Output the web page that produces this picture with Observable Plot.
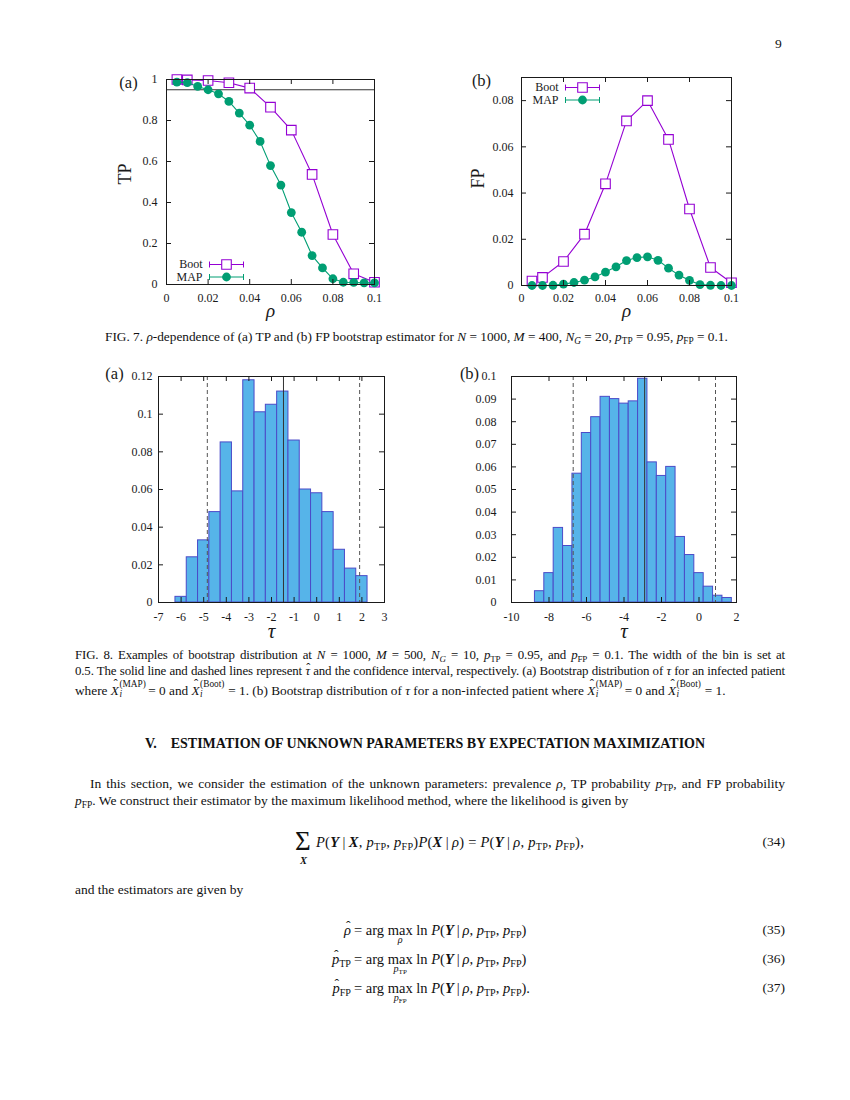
<!DOCTYPE html>
<html>
<head>
<meta charset="utf-8">
<script src="https://cdn.jsdelivr.net/npm/d3@7"></script>
<script src="https://cdn.jsdelivr.net/npm/@observablehq/plot@0.6"></script>
<style>
  html, body { margin: 0; padding: 0; background: #fff; }
  body { width: 850px; height: 1100px; position: relative; overflow: hidden;
         font-family: "Liberation Serif", "Times New Roman", serif; color: #111; }
  .abs { position: absolute; white-space: nowrap; }
  .cap { font-size: 13.3px; line-height: 15px; }
  .capj { font-size: 12.9px; line-height: 15px; letter-spacing: -0.15px; }
  .body { font-size: 13.5px; line-height: 16px; }
  .eq { font-size: 14.5px; line-height: 16px; }
  .just { text-align: justify; text-align-last: justify; white-space: normal; }
  sub { font-size: 70%; vertical-align: -0.3em; line-height: 0; }
  .ss { display: inline-block; position: relative; width: 2.2em; height: 1em; vertical-align: baseline; }
  .ss .up { position: absolute; left: 0.05em; top: -0.55em; font-size: 70%; }
  .ss .dn { position: absolute; left: 0.05em; top: 0.55em; font-size: 70%; font-style: italic; }
  .lim { position: relative; display: inline-block; }
  .under { position: absolute; left: 50%; transform: translateX(-50%); top: 1.0em; font-size: 70%; white-space: nowrap; }
  .hat, .hatc { position: relative; display: inline-block; font-style: italic; }
  .hat::after, .hatc::after { content: "\02C6"; position: absolute; left: 50%; transform: translateX(-35%);
         font-style: normal; font-size: 95%; }
  .hat::after { top: -0.22em; }
  .hatc::after { top: -0.48em; }
  .chart { position: absolute; }
</style>
</head>
<body>
<div id="root"></div>
<script>
// ---------------- data ----------------
const bootRho = [0.005, 0.01, 0.02, 0.03, 0.04, 0.05, 0.06, 0.07, 0.08, 0.09, 0.1];
const bootTP  = [1.0, 0.998, 0.995, 0.984, 0.958, 0.865, 0.753, 0.537, 0.244, 0.052, 0.011];
const bootFP  = [0.0019, 0.0035, 0.0104, 0.0222, 0.044, 0.0712, 0.080, 0.0632, 0.0331, 0.0078, 0.0012];

const mapRho = [0.005, 0.01, 0.015, 0.02, 0.025, 0.03, 0.035, 0.04, 0.045, 0.05,
                0.055, 0.06, 0.065, 0.07, 0.075, 0.08, 0.085, 0.09, 0.095, 0.1];
const mapTP  = [0.987, 0.985, 0.966, 0.950, 0.930, 0.893, 0.836, 0.777, 0.698, 0.580,
                0.485, 0.351, 0.255, 0.141, 0.081, 0.028, 0.011, 0.010, 0.008, 0.008];
const mapFP  = [0.0, 0.0, 0.0001, 0.0006, 0.0013, 0.0023, 0.0037, 0.0058, 0.0081, 0.0108,
                0.0121, 0.0124, 0.0109, 0.0075, 0.0045, 0.0022, 0.0004, 0.0001, 0.0, 0.0];

const pTPLine = [0.95];

const binWidth = 0.5;
const tauA  = [-6, -5.5, -5, -4.5, -4, -3.5, -3, -2.5, -2, -1.5, -1, -0.5, 0, 0.5, 1, 1.5, 2];
const probA = [0.003, 0.024, 0.033, 0.048, 0.085, 0.059, 0.118, 0.101, 0.105, 0.112,
               0.086, 0.060, 0.058, 0.048, 0.028, 0.018, 0.014];
const tauHatA = [-1.47];
const ciA = [-4.84, 1.90];

const tauB  = [-8.5, -8, -7.5, -7, -6.5, -6, -5.5, -5, -4.5, -4, -3.5, -3, -2.5, -2, -1.5,
               -1, -0.5, 0, 0.5, 1, 1.5];
const probB = [0.005, 0.013, 0.033, 0.025, 0.057, 0.075, 0.082, 0.091, 0.090, 0.088, 0.089,
               0.099, 0.062, 0.056, 0.060, 0.029, 0.021, 0.013, 0.007, 0.003, 0.002];
const tauHatB = [-2.90];
const ciB = [-6.71, 0.88];

const rhoTicks  = [0, 0.02, 0.04, 0.06, 0.08, 0.1];
const tpTicks   = [0, 0.2, 0.4, 0.6, 0.8, 1];
const fpTicks   = [0, 0.02, 0.04, 0.06, 0.08];
const tauATicks = [-7, -6, -5, -4, -3, -2, -1, 0, 1, 2, 3];
const hATicks   = [0, 0.02, 0.04, 0.06, 0.08, 0.1, 0.12];
const tauBTicks = [-10, -8, -6, -4, -2, 0, 2];
const hBTicks   = [0, 0.01, 0.02, 0.03, 0.04, 0.05, 0.06, 0.07, 0.08, 0.09, 0.1];

const seriesNames = ["Boot", "MAP"];

// ---------------- styles ----------------
const PURPLE = "#9400d3";
const GREEN = "#009e73";
const BLUE = "#56b4e9";
const EDGE = "#4b4bc8";
const INK = "#1a1a1a";
const fmt = d => String(d);

const bootTable = bootRho.map((r, i) => ({rho: r, tp: bootTP[i], fp: bootFP[i]}));
const mapTable = mapRho.map((r, i) => ({rho: r, tp: mapTP[i], fp: mapFP[i]}));
const histA = tauA.map((t, i) => ({tau: t, p: probA[i]}));
const histB = tauB.map((t, i) => ({tau: t, p: probB[i]}));

const keyLine = {
  draw(ctx) {
    const h = 17, c = 3;
    ctx.moveTo(-h, 0); ctx.lineTo(h, 0);
    ctx.moveTo(-h, -c); ctx.lineTo(-h, c);
    ctx.moveTo(h, -c); ctx.lineTo(h, c);
  }
};

function frameTicks(xt, yt, fw, fh, len = 5) {
  const o = {stroke: INK, strokeWidth: 1};
  return [
    Plot.tickX(xt, {x: d => d, insetTop: fh - len, ...o}),
    Plot.tickX(xt, {x: d => d, insetBottom: fh - len, ...o}),
    Plot.tickY(yt, {y: d => d, insetLeft: fw - len, ...o}),
    Plot.tickY(yt, {y: d => d, insetRight: fw - len, ...o})
  ];
}

function label(str, anchor, dx, dy, extra = {}) {
  return Plot.text([str], {frameAnchor: anchor, dx, dy, text: d => d,
    textAnchor: "middle", lineAnchor: "middle", ...extra});
}

function panel(cfg) {
  const {left, top, width, height, ml, mr, mt, mb, xDomain, yDomain, xTicks, yTicks, xPad, yPad, marks} = cfg;
  const fw = width - ml - mr, fh = height - mt - mb;
  const chart = Plot.plot({
    width, height,
    marginLeft: ml, marginRight: mr, marginTop: mt, marginBottom: mb,
    style: {fontFamily: "Liberation Serif, serif", fontSize: "12px", background: "none",
            color: INK, overflow: "visible", maxWidth: "none"},
    x: {domain: xDomain},
    y: {domain: yDomain},
    marks: [
      ...marks(fw, fh),
      ...frameTicks(xTicks, yTicks, fw, fh),
      Plot.frame({stroke: INK, strokeWidth: 1}),
      Plot.axisX(xTicks, {tickSize: 0, tickPadding: xPad, tickFormat: fmt, label: null, fontSize: 12}),
      Plot.axisY(yTicks, {tickSize: 0, tickPadding: yPad, tickFormat: fmt, label: null, fontSize: 12}),
      ...cfg.labels
    ]
  });
  const wrap = document.createElement("div");
  wrap.className = "chart";
  wrap.style.left = left + "px";
  wrap.style.top = top + "px";
  wrap.appendChild(chart);
  document.getElementById("root").appendChild(wrap);
}

function legend(anchor, x0, y0) {
  const rows = [
    {name: seriesNames[0], color: PURPLE, dy: y0, sym: {symbol: "square", r: 5.4, stroke: PURPLE, fill: "white", strokeWidth: 1.1}},
    {name: seriesNames[1], color: GREEN, dy: y0 + 12.5, sym: {symbol: "circle", r: 4.4, fill: GREEN}}
  ];
  return rows.flatMap(row => [
    Plot.text([row.name], {frameAnchor: anchor, dx: x0, dy: row.dy, text: d => d,
      textAnchor: "end", lineAnchor: "middle", fontSize: 12}),
    Plot.dot([0], {frameAnchor: anchor, dx: x0 + 24, dy: row.dy, symbol: keyLine, r: 1,
      stroke: row.color, fill: "none", strokeWidth: 1}),
    Plot.dot([0], {frameAnchor: anchor, dx: x0 + 24, dy: row.dy, ...row.sym})
  ]);
}

function seriesMarks(key) {
  return () => [
    Plot.line(bootTable, {x: "rho", y: key, stroke: PURPLE, strokeWidth: 1.1}),
    Plot.dot(bootTable, {x: "rho", y: key, symbol: "square", r: 5.4, stroke: PURPLE, fill: "white", strokeWidth: 1.1}),
    Plot.line(mapTable, {x: "rho", y: key, stroke: GREEN, strokeWidth: 1.1}),
    Plot.dot(mapTable, {x: "rho", y: key, symbol: "circle", r: 4.4, fill: GREEN})
  ];
}

// (a) TP
panel({
  left: 100, top: 60, width: 290, height: 260, ml: 66, mr: 16, mt: 19, mb: 36,
  xDomain: [0, 0.1], yDomain: [0, 1], xTicks: rhoTicks, yTicks: tpTicks, xPad: 9, yPad: 9,
  marks: (fw, fh) => [
    Plot.ruleY(pTPLine, {y: d => d, stroke: "#333", strokeWidth: 1}),
    ...seriesMarks("tp")()
  ],
  labels: [
    ...legend("bottom-left", 36, -20),
    label("ρ", "bottom", 0, 26, {fontSize: 19, fontStyle: "italic"}),
    label("TP", "left", -41, -8, {fontSize: 18, rotate: -90}),
    label("(a)", "top-left", -38, 3, {fontSize: 16.5})
  ]
});

// (b) FP
panel({
  left: 460, top: 60, width: 290, height: 260, ml: 61, mr: 19, mt: 17, mb: 35,
  xDomain: [0, 0.1], yDomain: [0, 0.09], xTicks: rhoTicks, yTicks: fpTicks, xPad: 8, yPad: 8,
  marks: seriesMarks("fp"),
  labels: [
    ...legend("top-left", 37, 10),
    label("ρ", "bottom", 0, 25, {fontSize: 19, fontStyle: "italic"}),
    label("FP", "left", -43, -3, {fontSize: 18, rotate: -90}),
    label("(b)", "top-left", -40, 3, {fontSize: 16.5})
  ]
});

function histMarks(data, hat, ci) {
  return () => [
    Plot.rectY(data, {x1: d => d.tau - binWidth / 2, x2: d => d.tau + binWidth / 2, y: "p",
                      fill: BLUE, stroke: EDGE, strokeWidth: 1}),
    Plot.ruleX(hat, {x: d => d, stroke: "#333", strokeWidth: 1}),
    Plot.ruleX(ci, {x: d => d, stroke: "#555", strokeWidth: 1, strokeDasharray: "4,3"})
  ];
}

// Fig 8 (a)
panel({
  left: 100, top: 360, width: 300, height: 280, ml: 58, mr: 16, mt: 16, mb: 38,
  xDomain: [-7, 3], yDomain: [0, 0.12], xTicks: tauATicks, yTicks: hATicks, xPad: 10, yPad: 6,
  marks: histMarks(histA, tauHatA, ciA),
  labels: [
    label("τ", "bottom", 0, 29, {fontSize: 21, fontStyle: "italic"}),
    label("(a)", "top-left", -44, -3, {fontSize: 16.5})
  ]
});

// Fig 8 (b)
panel({
  left: 460, top: 360, width: 300, height: 280, ml: 51, mr: 24, mt: 16, mb: 38,
  xDomain: [-10, 2], yDomain: [0, 0.1], xTicks: tauBTicks, yTicks: hBTicks, xPad: 10, yPad: 15,
  marks: histMarks(histB, tauHatB, ciB),
  labels: [
    label("τ", "bottom", 0, 29, {fontSize: 21, fontStyle: "italic"}),
    label("(b)", "top-left", -42, -3, {fontSize: 16.5})
  ]
});
</script>

<div class="abs body" style="left:775px; top:36px;">9</div>

<div class="abs cap" style="left:105px; top:329px;">FIG. 7. <i>ρ</i>-dependence of (a) TP and (b) FP bootstrap estimator for <i>N</i> = 1000, <i>M</i> = 400, <i>N<sub>G</sub></i> = 20, <i>p</i><sub>TP</sub> = 0.95, <i>p</i><sub>FP</sub> = 0.1.</div>

<div class="abs capj just" style="left:75px; top:648px; width:710px;">FIG. 8. Examples of bootstrap distribution at <i>N</i> = 1000, <i>M</i> = 500, <i>N<sub>G</sub></i> = 10, <i>p</i><sub>TP</sub> = 0.95, and <i>p</i><sub>FP</sub> = 0.1. The width of the bin is set at</div>
<div class="abs capj just" style="left:75px; top:664px; width:710px;">0.5. The solid line and dashed lines represent <span class="hat">τ</span> and the confidence interval, respectively. (a) Bootstrap distribution of <i>τ</i> for an infected patient</div>
<div class="abs cap" style="left:75px; top:682px;">where <span class="hatc">X</span><span class="ss"><span class="up">(MAP)</span><span class="dn">i</span></span>= 0 and <span class="hatc">X</span><span class="ss" style="width:2.15em"><span class="up">(Boot)</span><span class="dn">i</span></span>= 1. (b) Bootstrap distribution of <i>τ</i> for a non-infected patient where <span class="hatc">X</span><span class="ss"><span class="up">(MAP)</span><span class="dn">i</span></span>= 0 and <span class="hatc">X</span><span class="ss" style="width:2.15em"><span class="up">(Boot)</span><span class="dn">i</span></span>= 1.</div>

<div class="abs" style="left:70px; top:736px; width:710px; text-align:center; font-weight:bold; font-size:14px; line-height:16px;">V.&nbsp;&nbsp;&nbsp;&nbsp;ESTIMATION OF UNKNOWN PARAMETERS BY EXPECTATION MAXIMIZATION</div>

<div class="abs body just" style="left:90px; top:776px; width:695px;">In this section, we consider the estimation of the unknown parameters: prevalence <i>ρ</i>, TP probability <i>p</i><sub>TP</sub>, and FP probability</div>
<div class="abs body" style="left:75px; top:793px;"><i>p</i><sub>FP</sub>. We construct their estimator by the maximum likelihood method, where the likelihood is given by</div>

<div class="abs" style="left:295px; top:826px; font-size:27px; line-height:30px;">Σ</div>
<div class="abs" style="left:300px; top:855px; font-size:10.5px; line-height:12px; font-weight:bold; font-style:italic;">X</div>
<div class="abs eq" style="left:316px; top:834px; letter-spacing:0.25px;"><i>P</i>(<b><i>Y</i></b>&thinsp;|&thinsp;<b><i>X</i></b>, <i>p</i><sub>TP</sub>, <i>p</i><sub>FP</sub>)<i>P</i>(<b><i>X</i></b>&thinsp;|&thinsp;<i>ρ</i>) = <i>P</i>(<b><i>Y</i></b>&thinsp;|&thinsp;<i>ρ</i>, <i>p</i><sub>TP</sub>, <i>p</i><sub>FP</sub>),</div>
<div class="abs body" style="right:65px; top:834px;">(34)</div>

<div class="abs body" style="left:75px; top:882px;">and the estimators are given by</div>

<div class="abs eq" style="right:499px; top:922px;"><span class="hat">ρ</span></div>
<div class="abs eq" style="left:354px; top:922px;">= arg <span class="lim">max<span class="under"><i>ρ</i></span></span> ln <i>P</i>(<b><i>Y</i></b>&thinsp;|&thinsp;<i>ρ</i>, <i>p</i><sub>TP</sub>, <i>p</i><sub>FP</sub>)</div>
<div class="abs body" style="right:65px; top:922px;">(35)</div>

<div class="abs eq" style="right:499px; top:951px;"><span class="hat">p</span><sub>TP</sub></div>
<div class="abs eq" style="left:354px; top:951px;">= arg <span class="lim">max<span class="under"><i>p</i><sub>TP</sub></span></span> ln <i>P</i>(<b><i>Y</i></b>&thinsp;|&thinsp;<i>ρ</i>, <i>p</i><sub>TP</sub>, <i>p</i><sub>FP</sub>)</div>
<div class="abs body" style="right:65px; top:951px;">(36)</div>

<div class="abs eq" style="right:499px; top:980px;"><span class="hat">p</span><sub>FP</sub></div>
<div class="abs eq" style="left:354px; top:980px;">= arg <span class="lim">max<span class="under"><i>p</i><sub>FP</sub></span></span> ln <i>P</i>(<b><i>Y</i></b>&thinsp;|&thinsp;<i>ρ</i>, <i>p</i><sub>TP</sub>, <i>p</i><sub>FP</sub>).</div>
<div class="abs body" style="right:65px; top:980px;">(37)</div>
</body>
</html>
